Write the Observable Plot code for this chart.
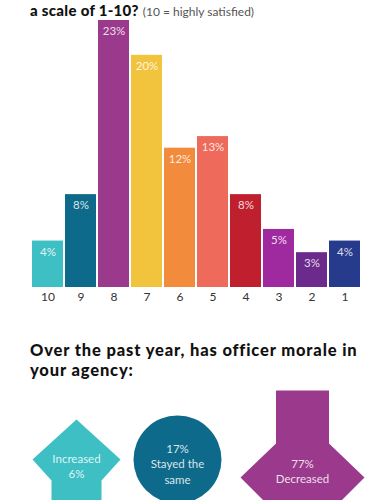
<!DOCTYPE html>
<html>
<head>
<meta charset="utf-8">
<script src="https://cdn.jsdelivr.net/npm/d3@7"></script>
<script src="https://cdn.jsdelivr.net/npm/@observablehq/plot@0.6"></script>
<style>
  html, body { margin: 0; padding: 0; background: #fff; width: 375px; height: 500px; overflow: hidden; }
  body { position: relative; font-family: Lato, "Noto Sans", sans-serif; }
  .abs { position: absolute; left: 0; }
  #title { top: 1px; left: 30px; white-space: nowrap; font-size: 15px; line-height: 18px; color: #111; }
  #title b { font-weight: 900; letter-spacing: 0.3px; }
  #title span { font-weight: 400; font-size: 12px; color: #555; }
  #heading { top: 340px; left: 30px; width: 345px; white-space: nowrap; font-size: 16.5px; line-height: 20px; font-weight: 900; letter-spacing: 0.85px; color: #111; }
  #bars { top: 0; }
  #shapes { top: 380px; }
</style>
</head>
<body>
<div id="title" class="abs"><b>a scale of 1-10?</b> <span>(10 = highly satisfied)</span></div>
<div id="bars" class="abs"></div>
<div id="heading" class="abs">Over the past year, has officer morale in<br>your agency:</div>
<div id="shapes" class="abs"></div>
<script>
// Bar chart data
const scores = ["10", "9", "8", "7", "6", "5", "4", "3", "2", "1"];
const shares = [4, 8, 23, 20, 12, 13, 8, 5, 3, 4];
const barColors = ["#3dbfc4", "#0e6a8a", "#9b3a8c", "#f2c33d", "#f28b3c", "#ee6a5a", "#c01f2e", "#9f2a9f", "#6b2a8c", "#263b8c"];

// Morale data
const moraleLabels = ["Increased", "Stayed the same", "Decreased"];
const moraleShares = [6, 17, 77];
const moraleColors = ["#3dbfc4", "#0e6a8a", "#9b3a8c"];

const rows = scores.map((s, i) => ({score: s, share: shares[i]}));

const bars = Plot.plot({
  width: 375,
  height: 310,
  marginLeft: 29,
  marginRight: 12,
  marginTop: 20,
  marginBottom: 23,
  style: {fontFamily: "Lato, 'Noto Sans', sans-serif", fontSize: "12px", color: "#333", background: "transparent"},
  x: {domain: scores, paddingInner: 0.07, paddingOuter: 0.035, tickSize: 0, tickPadding: 5, label: null},
  y: {domain: [0, 23], axis: null},
  color: {type: "ordinal", domain: scores, range: barColors},
  marks: [
    Plot.barY(rows, {x: "score", y: "share", fill: "score"}),
    Plot.text(rows, {x: "score", y: "share", text: d => d.share + "%", dy: 11, fill: "white", fillOpacity: 0.85, fontSize: 11.5})
  ]
});
document.getElementById("bars").appendChild(bars);

// Custom symbols
const upArrow = {
  draw(ctx, size) {
    const k = Math.sqrt(size / Math.PI) / 44;
    ctx.moveTo(0, -40 * k);
    ctx.lineTo(44 * k, 0);
    ctx.lineTo(25 * k, 21 * k);
    ctx.lineTo(25 * k, 70 * k);
    ctx.lineTo(-25 * k, 70 * k);
    ctx.lineTo(-25 * k, 21 * k);
    ctx.lineTo(-44 * k, 0);
    ctx.closePath();
  }
};
const downArrow = {
  draw(ctx, size) {
    const k = Math.sqrt(size / Math.PI) / 62;
    ctx.moveTo(-26.5 * k, -69 * k);
    ctx.lineTo(26.5 * k, -69 * k);
    ctx.lineTo(26.5 * k, -16 * k);
    ctx.lineTo(62 * k, 18 * k);
    ctx.lineTo(0, 80 * k);
    ctx.lineTo(-62 * k, 18 * k);
    ctx.lineTo(-26.5 * k, -16 * k);
    ctx.closePath();
  }
};

const morale = moraleLabels.map((l, i) => ({label: l, share: moraleShares[i]}));
const inc = morale.filter(d => d.label === "Increased");
const same = morale.filter(d => d.label === "Stayed the same");
const dec = morale.filter(d => d.label === "Decreased");

const textStyle = {fill: "white", fillOpacity: 0.85, fontSize: 11.5, lineHeight: 1.33};

const shapes = Plot.plot({
  width: 375,
  height: 120,
  marginLeft: 75,
  marginRight: 72.5,
  marginTop: 38,
  marginBottom: 0,
  style: {fontFamily: "Lato, 'Noto Sans', sans-serif", background: "transparent", overflow: "visible"},
  x: {type: "point", domain: moraleLabels, padding: 0, axis: null},
  color: {type: "ordinal", domain: moraleLabels, range: moraleColors},
  marks: [
    Plot.dot(inc, {x: "label", r: 44, symbol: upArrow, fill: "label"}),
    Plot.dot(same, {x: "label", r: 44, symbol: "circle", fill: "label", dx: -12}),
    Plot.dot(dec, {x: "label", r: 62, symbol: downArrow, fill: "label"}),
    Plot.text(inc, {x: "label", text: d => `${d.label}\n${d.share}%`, dy: 6, ...textStyle}),
    Plot.text(same, {x: "label", text: d => `${d.share}%\nStayed the\nsame`, dx: -12, dy: 4, ...textStyle}),
    Plot.text(dec, {x: "label", text: d => `${d.share}%\n${d.label}`, dy: 11, ...textStyle})
  ]
});
document.getElementById("shapes").appendChild(shapes);
</script>
</body>
</html>
